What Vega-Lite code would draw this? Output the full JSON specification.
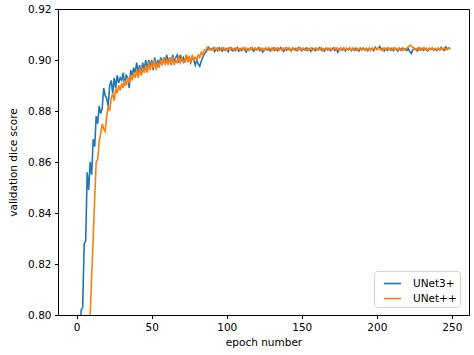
{
  "$schema": "https://vega.github.io/schema/vega-lite/v6.json",
  "autosize": {"type": "none"},
  "width": 411,
  "height": 306,
  "padding": {"left": 58, "top": 9, "right": 5, "bottom": 40},
  "background": "white",
  "config": {
    "font": "DejaVu Sans",
    "view": {"stroke": "black", "strokeWidth": 1},
    "axis": {
      "grid": false,
      "domainColor": "black",
      "tickColor": "black",
      "tickSize": 3.5,
      "labelFontSize": 10.5,
      "titleFontSize": 10.5,
      "titleFontWeight": "normal",
      "labelColor": "black",
      "titleColor": "black",
      "labelPadding": 3.5
    }
  },
  "datasets": {
    "unet3": [
      {"epoch":0,"dice":0.760},{"epoch":1,"dice":0.775},{"epoch":2,"dice":0.790},{"epoch":3,"dice":0.802},{"epoch":4,"dice":0.803},{"epoch":5,"dice":0.828},{"epoch":6,"dice":0.829},{"epoch":7,"dice":0.856},{"epoch":8,"dice":0.849},{"epoch":9,"dice":0.860},
      {"epoch":10,"dice":0.855},{"epoch":11,"dice":0.869},{"epoch":12,"dice":0.866},{"epoch":13,"dice":0.878},{"epoch":14,"dice":0.875},{"epoch":15,"dice":0.882},{"epoch":16,"dice":0.879},{"epoch":17,"dice":0.881},{"epoch":18,"dice":0.889},{"epoch":19,"dice":0.886},
      {"epoch":20,"dice":0.885},{"epoch":21,"dice":0.882},{"epoch":22,"dice":0.890},{"epoch":23,"dice":0.892},{"epoch":24,"dice":0.887},{"epoch":25,"dice":0.893},{"epoch":26,"dice":0.889},{"epoch":27,"dice":0.894},{"epoch":28,"dice":0.891},{"epoch":29,"dice":0.893},
      {"epoch":30,"dice":0.892},{"epoch":31,"dice":0.895},{"epoch":32,"dice":0.890},{"epoch":33,"dice":0.894},{"epoch":34,"dice":0.893},{"epoch":35,"dice":0.889},{"epoch":36,"dice":0.896},{"epoch":37,"dice":0.894},{"epoch":38,"dice":0.897},{"epoch":39,"dice":0.895},
      {"epoch":40,"dice":0.899},{"epoch":41,"dice":0.895},{"epoch":42,"dice":0.898},{"epoch":43,"dice":0.894},{"epoch":44,"dice":0.899},{"epoch":45,"dice":0.896},{"epoch":46,"dice":0.900},{"epoch":47,"dice":0.896},{"epoch":48,"dice":0.900},{"epoch":49,"dice":0.897},
      {"epoch":50,"dice":0.900},{"epoch":51,"dice":0.896},{"epoch":52,"dice":0.901},{"epoch":53,"dice":0.897},{"epoch":54,"dice":0.900},{"epoch":55,"dice":0.898},{"epoch":56,"dice":0.901},{"epoch":57,"dice":0.898},{"epoch":58,"dice":0.901},{"epoch":59,"dice":0.899},
      {"epoch":60,"dice":0.902},{"epoch":61,"dice":0.899},{"epoch":62,"dice":0.901},{"epoch":63,"dice":0.898},{"epoch":64,"dice":0.902},{"epoch":65,"dice":0.899},{"epoch":66,"dice":0.901},{"epoch":67,"dice":0.902},{"epoch":68,"dice":0.899},{"epoch":69,"dice":0.902},
      {"epoch":70,"dice":0.900},{"epoch":71,"dice":0.901},{"epoch":72,"dice":0.899},{"epoch":73,"dice":0.902},{"epoch":74,"dice":0.900},{"epoch":75,"dice":0.901},{"epoch":76,"dice":0.899},{"epoch":77,"dice":0.901},{"epoch":78,"dice":0.900},{"epoch":79,"dice":0.898},
      {"epoch":80,"dice":0.900},{"epoch":81,"dice":0.8985},{"epoch":82,"dice":0.8975},{"epoch":83,"dice":0.8995},{"epoch":84,"dice":0.901},{"epoch":85,"dice":0.9025},{"epoch":86,"dice":0.903},{"epoch":87,"dice":0.904},{"epoch":88,"dice":0.905},{"epoch":89,"dice":0.904},
      {"epoch":90,"dice":0.9040},{"epoch":91,"dice":0.9047},{"epoch":92,"dice":0.9034},{"epoch":93,"dice":0.9045},{"epoch":94,"dice":0.9037},{"epoch":95,"dice":0.9048},{"epoch":96,"dice":0.9041},{"epoch":97,"dice":0.9035},{"epoch":98,"dice":0.9046},{"epoch":99,"dice":0.9038},
      {"epoch":100,"dice":0.9044},{"epoch":101,"dice":0.9033},{"epoch":102,"dice":0.9047},{"epoch":103,"dice":0.9040},{"epoch":104,"dice":0.9036},{"epoch":105,"dice":0.9045},{"epoch":106,"dice":0.9038},{"epoch":107,"dice":0.9048},{"epoch":108,"dice":0.9035},{"epoch":109,"dice":0.9043},
      {"epoch":110,"dice":0.9037},{"epoch":111,"dice":0.9046},{"epoch":112,"dice":0.9040},{"epoch":113,"dice":0.9032},{"epoch":114,"dice":0.9044},{"epoch":115,"dice":0.9038},{"epoch":116,"dice":0.9047},{"epoch":117,"dice":0.9041},{"epoch":118,"dice":0.9034},{"epoch":119,"dice":0.9045},
      {"epoch":120,"dice":0.9040},{"epoch":121,"dice":0.9048},{"epoch":122,"dice":0.9037},{"epoch":123,"dice":0.9044},{"epoch":124,"dice":0.9031},{"epoch":125,"dice":0.9041},{"epoch":126,"dice":0.9046},{"epoch":127,"dice":0.9038},{"epoch":128,"dice":0.9045},{"epoch":129,"dice":0.9035},
      {"epoch":130,"dice":0.9042},{"epoch":131,"dice":0.9047},{"epoch":132,"dice":0.9038},{"epoch":133,"dice":0.9045},{"epoch":134,"dice":0.9036},{"epoch":135,"dice":0.9043},{"epoch":136,"dice":0.9049},{"epoch":137,"dice":0.9040},{"epoch":138,"dice":0.9034},{"epoch":139,"dice":0.9045},
      {"epoch":140,"dice":0.9038},{"epoch":141,"dice":0.9046},{"epoch":142,"dice":0.9041},{"epoch":143,"dice":0.9035},{"epoch":144,"dice":0.9047},{"epoch":145,"dice":0.9040},{"epoch":146,"dice":0.9045},{"epoch":147,"dice":0.9037},{"epoch":148,"dice":0.9048},{"epoch":149,"dice":0.9041},
      {"epoch":150,"dice":0.9036},{"epoch":151,"dice":0.9045},{"epoch":152,"dice":0.9040},{"epoch":153,"dice":0.9047},{"epoch":154,"dice":0.9038},{"epoch":155,"dice":0.9044},{"epoch":156,"dice":0.9034},{"epoch":157,"dice":0.9046},{"epoch":158,"dice":0.9041},{"epoch":159,"dice":0.9037},
      {"epoch":160,"dice":0.9045},{"epoch":161,"dice":0.9040},{"epoch":162,"dice":0.9048},{"epoch":163,"dice":0.9038},{"epoch":164,"dice":0.9044},{"epoch":165,"dice":0.9035},{"epoch":166,"dice":0.9046},{"epoch":167,"dice":0.9040},{"epoch":168,"dice":0.9045},{"epoch":169,"dice":0.9037},
      {"epoch":170,"dice":0.9042},{"epoch":171,"dice":0.9047},{"epoch":172,"dice":0.9038},{"epoch":173,"dice":0.9045},{"epoch":174,"dice":0.9030},{"epoch":175,"dice":0.9041},{"epoch":176,"dice":0.9046},{"epoch":177,"dice":0.9038},{"epoch":178,"dice":0.9044},{"epoch":179,"dice":0.9036},
      {"epoch":180,"dice":0.9045},{"epoch":181,"dice":0.9040},{"epoch":182,"dice":0.9047},{"epoch":183,"dice":0.9037},{"epoch":184,"dice":0.9044},{"epoch":185,"dice":0.9038},{"epoch":186,"dice":0.9046},{"epoch":187,"dice":0.9041},{"epoch":188,"dice":0.9035},{"epoch":189,"dice":0.9045},
      {"epoch":190,"dice":0.9040},{"epoch":191,"dice":0.9047},{"epoch":192,"dice":0.9038},{"epoch":193,"dice":0.9044},{"epoch":194,"dice":0.9036},{"epoch":195,"dice":0.9046},{"epoch":196,"dice":0.9041},{"epoch":197,"dice":0.9045},{"epoch":198,"dice":0.9037},{"epoch":199,"dice":0.9050},
      {"epoch":200,"dice":0.9042},{"epoch":201,"dice":0.9047},{"epoch":202,"dice":0.9053},{"epoch":203,"dice":0.9040},{"epoch":204,"dice":0.9045},{"epoch":205,"dice":0.9036},{"epoch":206,"dice":0.9044},{"epoch":207,"dice":0.9038},{"epoch":208,"dice":0.9046},{"epoch":209,"dice":0.9040},
      {"epoch":210,"dice":0.9045},{"epoch":211,"dice":0.9037},{"epoch":212,"dice":0.9047},{"epoch":213,"dice":0.9041},{"epoch":214,"dice":0.9035},{"epoch":215,"dice":0.9045},{"epoch":216,"dice":0.9038},{"epoch":217,"dice":0.9046},{"epoch":218,"dice":0.9040},{"epoch":219,"dice":0.9044},
      {"epoch":220,"dice":0.9037},{"epoch":221,"dice":0.9044},{"epoch":222,"dice":0.9033},{"epoch":223,"dice":0.9026},{"epoch":224,"dice":0.9040},{"epoch":225,"dice":0.9046},{"epoch":226,"dice":0.9041},{"epoch":227,"dice":0.9036},{"epoch":228,"dice":0.9047},{"epoch":229,"dice":0.9040},
      {"epoch":230,"dice":0.9045},{"epoch":231,"dice":0.9038},{"epoch":232,"dice":0.9046},{"epoch":233,"dice":0.9040},{"epoch":234,"dice":0.9035},{"epoch":235,"dice":0.9045},{"epoch":236,"dice":0.9041},{"epoch":237,"dice":0.9047},{"epoch":238,"dice":0.9038},{"epoch":239,"dice":0.9044},
      {"epoch":240,"dice":0.9037},{"epoch":241,"dice":0.9046},{"epoch":242,"dice":0.9040},{"epoch":243,"dice":0.9049},{"epoch":244,"dice":0.9041},{"epoch":245,"dice":0.9038},{"epoch":246,"dice":0.9051},{"epoch":247,"dice":0.9042},{"epoch":248,"dice":0.9047},{"epoch":249,"dice":0.9044}
    ],
    "unetpp": [
      {"epoch":0,"dice":0.700},{"epoch":1,"dice":0.720},{"epoch":2,"dice":0.740},{"epoch":3,"dice":0.750},{"epoch":4,"dice":0.760},{"epoch":5,"dice":0.770},{"epoch":6,"dice":0.780},{"epoch":7,"dice":0.785},{"epoch":8,"dice":0.790},{"epoch":9,"dice":0.800},
      {"epoch":10,"dice":0.815},{"epoch":11,"dice":0.830},{"epoch":12,"dice":0.846},{"epoch":13,"dice":0.860},{"epoch":14,"dice":0.861},{"epoch":15,"dice":0.868},{"epoch":16,"dice":0.871},{"epoch":17,"dice":0.875},{"epoch":18,"dice":0.873},{"epoch":19,"dice":0.872},
      {"epoch":20,"dice":0.878},{"epoch":21,"dice":0.882},{"epoch":22,"dice":0.880},{"epoch":23,"dice":0.885},{"epoch":24,"dice":0.887},{"epoch":25,"dice":0.884},{"epoch":26,"dice":0.889},{"epoch":27,"dice":0.887},{"epoch":28,"dice":0.890},{"epoch":29,"dice":0.888},
      {"epoch":30,"dice":0.891},{"epoch":31,"dice":0.889},{"epoch":32,"dice":0.892},{"epoch":33,"dice":0.890},{"epoch":34,"dice":0.893},{"epoch":35,"dice":0.891},{"epoch":36,"dice":0.894},{"epoch":37,"dice":0.892},{"epoch":38,"dice":0.895},{"epoch":39,"dice":0.893},
      {"epoch":40,"dice":0.896},{"epoch":41,"dice":0.893},{"epoch":42,"dice":0.897},{"epoch":43,"dice":0.894},{"epoch":44,"dice":0.897},{"epoch":45,"dice":0.895},{"epoch":46,"dice":0.898},{"epoch":47,"dice":0.895},{"epoch":48,"dice":0.899},{"epoch":49,"dice":0.896},
      {"epoch":50,"dice":0.899},{"epoch":51,"dice":0.897},{"epoch":52,"dice":0.900},{"epoch":53,"dice":0.896},{"epoch":54,"dice":0.899},{"epoch":55,"dice":0.897},{"epoch":56,"dice":0.900},{"epoch":57,"dice":0.898},{"epoch":58,"dice":0.901},{"epoch":59,"dice":0.898},
      {"epoch":60,"dice":0.900},{"epoch":61,"dice":0.898},{"epoch":62,"dice":0.901},{"epoch":63,"dice":0.899},{"epoch":64,"dice":0.901},{"epoch":65,"dice":0.898},{"epoch":66,"dice":0.900},{"epoch":67,"dice":0.899},{"epoch":68,"dice":0.901},{"epoch":69,"dice":0.899},
      {"epoch":70,"dice":0.901},{"epoch":71,"dice":0.899},{"epoch":72,"dice":0.900},{"epoch":73,"dice":0.902},{"epoch":74,"dice":0.899},{"epoch":75,"dice":0.901},{"epoch":76,"dice":0.899},{"epoch":77,"dice":0.902},{"epoch":78,"dice":0.900},{"epoch":79,"dice":0.901},
      {"epoch":80,"dice":0.900},{"epoch":81,"dice":0.902},{"epoch":82,"dice":0.901},{"epoch":83,"dice":0.903},{"epoch":84,"dice":0.902},{"epoch":85,"dice":0.904},{"epoch":86,"dice":0.904},{"epoch":87,"dice":0.905},{"epoch":88,"dice":0.904},{"epoch":89,"dice":0.9042},
      {"epoch":90,"dice":0.9045},{"epoch":91,"dice":0.9037},{"epoch":92,"dice":0.9048},{"epoch":93,"dice":0.9041},{"epoch":94,"dice":0.9046},{"epoch":95,"dice":0.9036},{"epoch":96,"dice":0.9043},{"epoch":97,"dice":0.9049},{"epoch":98,"dice":0.9040},{"epoch":99,"dice":0.9046},
      {"epoch":100,"dice":0.9038},{"epoch":101,"dice":0.9047},{"epoch":102,"dice":0.9041},{"epoch":103,"dice":0.9049},{"epoch":104,"dice":0.9042},{"epoch":105,"dice":0.9037},{"epoch":106,"dice":0.9047},{"epoch":107,"dice":0.9040},{"epoch":108,"dice":0.9046},{"epoch":109,"dice":0.9038},
      {"epoch":110,"dice":0.9047},{"epoch":111,"dice":0.9041},{"epoch":112,"dice":0.9048},{"epoch":113,"dice":0.9039},{"epoch":114,"dice":0.9046},{"epoch":115,"dice":0.9037},{"epoch":116,"dice":0.9044},{"epoch":117,"dice":0.9049},{"epoch":118,"dice":0.9041},{"epoch":119,"dice":0.9047},
      {"epoch":120,"dice":0.9038},{"epoch":121,"dice":0.9044},{"epoch":122,"dice":0.9048},{"epoch":123,"dice":0.9040},{"epoch":124,"dice":0.9046},{"epoch":125,"dice":0.9037},{"epoch":126,"dice":0.9047},{"epoch":127,"dice":0.9042},{"epoch":128,"dice":0.9049},{"epoch":129,"dice":0.9041},
      {"epoch":130,"dice":0.9046},{"epoch":131,"dice":0.9038},{"epoch":132,"dice":0.9047},{"epoch":133,"dice":0.9041},{"epoch":134,"dice":0.9048},{"epoch":135,"dice":0.9039},{"epoch":136,"dice":0.9044},{"epoch":137,"dice":0.9037},{"epoch":138,"dice":0.9047},{"epoch":139,"dice":0.9042},
      {"epoch":140,"dice":0.9048},{"epoch":141,"dice":0.9040},{"epoch":142,"dice":0.9046},{"epoch":143,"dice":0.9038},{"epoch":144,"dice":0.9047},{"epoch":145,"dice":0.9042},{"epoch":146,"dice":0.9037},{"epoch":147,"dice":0.9046},{"epoch":148,"dice":0.9041},{"epoch":149,"dice":0.9048},
      {"epoch":150,"dice":0.9040},{"epoch":151,"dice":0.9047},{"epoch":152,"dice":0.9042},{"epoch":153,"dice":0.9037},{"epoch":154,"dice":0.9046},{"epoch":155,"dice":0.9041},{"epoch":156,"dice":0.9048},{"epoch":157,"dice":0.9038},{"epoch":158,"dice":0.9044},{"epoch":159,"dice":0.9047},
      {"epoch":160,"dice":0.9040},{"epoch":161,"dice":0.9046},{"epoch":162,"dice":0.9041},{"epoch":163,"dice":0.9048},{"epoch":164,"dice":0.9037},{"epoch":165,"dice":0.9044},{"epoch":166,"dice":0.9042},{"epoch":167,"dice":0.9047},{"epoch":168,"dice":0.9040},{"epoch":169,"dice":0.9046},
      {"epoch":170,"dice":0.9038},{"epoch":171,"dice":0.9043},{"epoch":172,"dice":0.9048},{"epoch":173,"dice":0.9041},{"epoch":174,"dice":0.9046},{"epoch":175,"dice":0.9037},{"epoch":176,"dice":0.9047},{"epoch":177,"dice":0.9042},{"epoch":178,"dice":0.9049},{"epoch":179,"dice":0.9040},
      {"epoch":180,"dice":0.9046},{"epoch":181,"dice":0.9041},{"epoch":182,"dice":0.9048},{"epoch":183,"dice":0.9038},{"epoch":184,"dice":0.9047},{"epoch":185,"dice":0.9042},{"epoch":186,"dice":0.9037},{"epoch":187,"dice":0.9046},{"epoch":188,"dice":0.9041},{"epoch":189,"dice":0.9048},
      {"epoch":190,"dice":0.9040},{"epoch":191,"dice":0.9045},{"epoch":192,"dice":0.9038},{"epoch":193,"dice":0.9047},{"epoch":194,"dice":0.9041},{"epoch":195,"dice":0.9046},{"epoch":196,"dice":0.9037},{"epoch":197,"dice":0.9048},{"epoch":198,"dice":0.9042},{"epoch":199,"dice":0.9046},
      {"epoch":200,"dice":0.9040},{"epoch":201,"dice":0.9047},{"epoch":202,"dice":0.9041},{"epoch":203,"dice":0.9045},{"epoch":204,"dice":0.9037},{"epoch":205,"dice":0.9047},{"epoch":206,"dice":0.9042},{"epoch":207,"dice":0.9048},{"epoch":208,"dice":0.9040},{"epoch":209,"dice":0.9046},
      {"epoch":210,"dice":0.9038},{"epoch":211,"dice":0.9047},{"epoch":212,"dice":0.9041},{"epoch":213,"dice":0.9046},{"epoch":214,"dice":0.9040},{"epoch":215,"dice":0.9048},{"epoch":216,"dice":0.9042},{"epoch":217,"dice":0.9037},{"epoch":218,"dice":0.9046},{"epoch":219,"dice":0.9041},
      {"epoch":220,"dice":0.9047},{"epoch":221,"dice":0.9051},{"epoch":222,"dice":0.9058},{"epoch":223,"dice":0.9055},{"epoch":224,"dice":0.9050},{"epoch":225,"dice":0.9046},{"epoch":226,"dice":0.9040},{"epoch":227,"dice":0.9046},{"epoch":228,"dice":0.9038},{"epoch":229,"dice":0.9047},
      {"epoch":230,"dice":0.9041},{"epoch":231,"dice":0.9048},{"epoch":232,"dice":0.9040},{"epoch":233,"dice":0.9046},{"epoch":234,"dice":0.9037},{"epoch":235,"dice":0.9047},{"epoch":236,"dice":0.9042},{"epoch":237,"dice":0.9048},{"epoch":238,"dice":0.9040},{"epoch":239,"dice":0.9046},
      {"epoch":240,"dice":0.9041},{"epoch":241,"dice":0.9047},{"epoch":242,"dice":0.9038},{"epoch":243,"dice":0.9046},{"epoch":244,"dice":0.9042},{"epoch":245,"dice":0.9048},{"epoch":246,"dice":0.9040},{"epoch":247,"dice":0.9044},{"epoch":248,"dice":0.9047},{"epoch":249,"dice":0.9043}
    ]
  },
  "encoding": {
    "x": {
      "field": "epoch", "type": "quantitative",
      "scale": {"domain": [-12.45, 261.45], "nice": false, "zero": false},
      "axis": {"values": [0, 50, 100, 150, 200, 250], "title": "epoch number", "titlePadding": 5}
    },
    "y": {
      "field": "dice", "type": "quantitative",
      "scale": {"domain": [0.80, 0.92], "nice": false, "zero": false},
      "axis": {"values": [0.80, 0.82, 0.84, 0.86, 0.88, 0.90, 0.92], "format": ".2f", "title": "validation dice score", "titlePadding": 9}
    },
    "color": {
      "type": "nominal",
      "scale": {"domain": ["UNet3+", "UNet++"], "range": ["#1f77b4", "#ff7f0e"]},
      "legend": {
        "title": null,
        "orient": "none",
        "legendX": 316,
        "legendY": 262,
        "symbolType": "stroke",
        "symbolStrokeWidth": 1.6,
        "symbolSize": 300,
        "symbolOffset": 6,
        "labelFontSize": 10.5,
        "labelColor": "black",
        "labelOffset": 11,
        "rowPadding": 0,
        "strokeColor": "#d4d4d4",
        "fillColor": "white",
        "cornerRadius": 3,
        "padding": 3
      }
    }
  },
  "layer": [
    {
      "data": {"name": "unet3"},
      "mark": {"type": "line", "clip": true, "strokeWidth": 1.6},
      "encoding": {"color": {"datum": "UNet3+"}}
    },
    {
      "data": {"name": "unetpp"},
      "mark": {"type": "line", "clip": true, "strokeWidth": 1.6},
      "encoding": {"color": {"datum": "UNet++"}}
    }
  ]
}
